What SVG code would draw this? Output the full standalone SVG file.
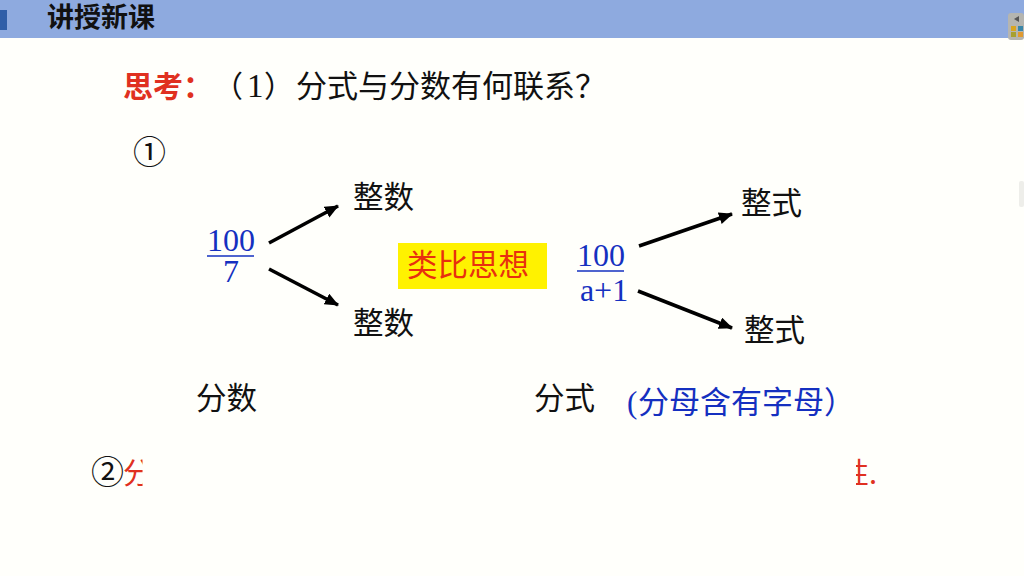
<svg xmlns="http://www.w3.org/2000/svg" width="1024" height="576" viewBox="0 0 1024 576">
<style>
.h{font-family:"Noto Sans CJK SC","Liberation Sans",sans-serif}
.s{font-family:"Noto Sans CJK SC","Liberation Sans",sans-serif;font-size:30.500px;fill:#111}
.c{font-family:"Noto Sans CJK SC",sans-serif;font-size:33px;font-weight:400;fill:#111}
.f{font-family:"Liberation Serif",serif;font-size:32px;fill:#1530c0;text-anchor:middle}
.a{stroke:#000;stroke-width:3.600;fill:none;marker-end:url(#ah)}
.b{stroke:#1530c0;stroke-width:1.600}
</style>
<defs>
<marker id="ah" markerUnits="userSpaceOnUse" markerWidth="18" markerHeight="14" refX="13" refY="6" orient="auto"><path d="M0 0L14 6L0 12Z" fill="#000"/></marker>
<clipPath id="cl"><rect x="120" y="450" width="22.500" height="45"/></clipPath>
<clipPath id="cr"><rect x="856" y="450" width="40" height="45"/></clipPath>
</defs>
<rect width="1024" height="576" fill="#fffffb"/>
<g id="header">
<rect width="1024" height="38" fill="#8eaadf"/>
<rect x="0" y="10" width="7" height="20" fill="#2f5ea8"/>
<text class="h" x="47" y="27" font-size="27" font-weight="700" fill="#111">讲授新课</text>
<rect x="1008" y="13" width="16" height="27" rx="3" fill="#b5b5b0"/>
<path d="M1014 19l5-3v6z" fill="#555"/>
<rect x="1011" y="26" width="5" height="5" fill="#d9a520"/><rect x="1018" y="26" width="5" height="5" fill="#3a86a8"/>
<rect x="1011" y="32" width="5" height="5" fill="#a8a030"/><rect x="1018" y="32" width="5" height="5" fill="#e09a30"/>
<rect x="1019" y="181" width="5" height="26" rx="2" fill="#eeeeea"/>
</g>
<g id="question">
<text class="h" x="123" y="97" font-size="30" font-weight="700" fill="#e03020">思考：</text>
<text class="s" x="213" y="97" style="font-size:30px">（</text>
<text x="247" y="97" font-family="Liberation Serif,serif" font-size="33" fill="#111">1</text>
<text class="s" x="264" y="97" style="font-size:30px">）</text>
<text class="s" x="296" y="97" style="font-size:31px">分式与分数有何联系？</text>
</g>
<g id="mark1"><text class="c" x="133" y="164">①</text></g>
<g id="fraction-left">
<text class="f" x="231" y="251">100</text>
<line class="b" x1="207" y1="256" x2="254" y2="256"/>
<text class="f" x="231" y="282">7</text>
</g>
<g id="fraction-right">
<text class="f" x="601" y="266">100</text>
<line class="b" x1="577" y1="271" x2="624" y2="271"/>
<text class="f" x="604" y="301">a+1</text>
</g>
<g id="n1"><text class="s" x="353" y="208">整数</text></g>
<g id="n2"><text class="s" x="353" y="334">整数</text></g>
<g id="n3"><text class="s" x="741" y="214">整式</text></g>
<g id="n4"><text class="s" x="744" y="341">整式</text></g>
<g id="analogy">
<rect x="398" y="243" width="149" height="46" fill="#fff200"/>
<text class="h" x="407" y="276" font-size="30.500" fill="#e8300e">类比思想</text>
</g>
<g id="connectors">
<line class="a" x1="269" y1="243" x2="338" y2="206"/>
<line class="a" x1="269" y1="269" x2="338" y2="305"/>
<line class="a" x1="639" y1="246" x2="732" y2="214"/>
<line class="a" x1="638" y1="291" x2="732" y2="328"/>
</g>
<g id="lbl-fenshu"><text class="s" x="196" y="409">分数</text></g>
<g id="lbl-fenshi"><text class="s" x="534" y="409">分式</text></g>
<g id="note">
<text x="627" y="413" font-family="Liberation Serif,serif" font-size="31" fill="#1530c0">(</text>
<text x="638" y="413" font-family="Noto Sans CJK SC,sans-serif" font-size="31" fill="#1530c0">分母含有字母）</text>
</g>
<g id="mark2">
<text class="c" x="91" y="484">②</text>
<text class="h" x="123" y="484" font-size="29" fill="#e03020" clip-path="url(#cl)">分</text>
<text class="h" x="840" y="484" font-size="29" fill="#e03020" clip-path="url(#cr)">性.</text>
</g>
</svg>
